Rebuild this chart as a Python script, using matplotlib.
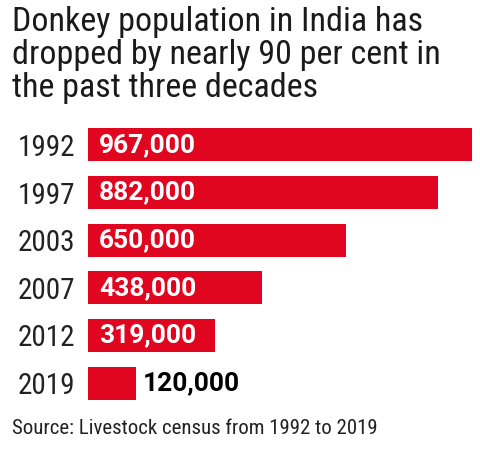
import matplotlib.pyplot as plt

years = ["1992", "1997", "2003", "2007", "2012", "2019"]
donkeys = [967000, 882000, 650000, 438000, 319000, 120000]
value_labels = ["967,000", "882,000", "650,000", "438,000", "319,000", "120,000"]

RED = "#e1061f"
COND = "Roboto Condensed"
W, H = 481, 472

fig = plt.figure(figsize=(W / 100, H / 100), dpi=100)
fig.patch.set_facecolor("white")

# axes placed in pixel terms: bars start at x=88, longest ends at x=472
ax = fig.add_axes([88 / W, 1 - 407 / H, 384 / W, 286 / H])
ax.barh(range(len(years)), donkeys, height=0.69, color=RED)
ax.set_xlim(0, max(donkeys))
ax.set_ylim(5.5, -0.5)
ax.set_yticks(range(len(years)))
ax.set_yticklabels(years, fontsize=21, color="#222222", family=COND)
ax.tick_params(axis="y", length=0, pad=9)
ax.set_xticks([])
for s in ax.spines.values():
    s.set_visible(False)

for i, (v, lab) in enumerate(zip(donkeys, value_labels)):
    if v > 200000:
        ax.annotate(lab, (0, i), xytext=(8, 0), textcoords="offset points",
                    ha="left", va="center", color="white", fontsize=19,
                    fontweight="bold", family="Roboto")
    else:
        ax.annotate(lab, (v, i), xytext=(5, 0), textcoords="offset points",
                    ha="left", va="center", color="black", fontsize=19,
                    fontweight="bold", family="Roboto")

title = "Donkey population in India has\ndropped by nearly 90 per cent in\nthe past three decades"
fig.text(12 / W, 1 - 6 / H, title, ha="left", va="top", fontsize=24.5,
         color="#1a1a1a", family=COND, linespacing=1.03)

fig.text(12 / W, 1 - 428 / H, "Source: Livestock census from 1992 to 2019",
         ha="left", va="center", fontsize=15, color="#222222", family=COND)

plt.savefig("out.png", dpi=100)
